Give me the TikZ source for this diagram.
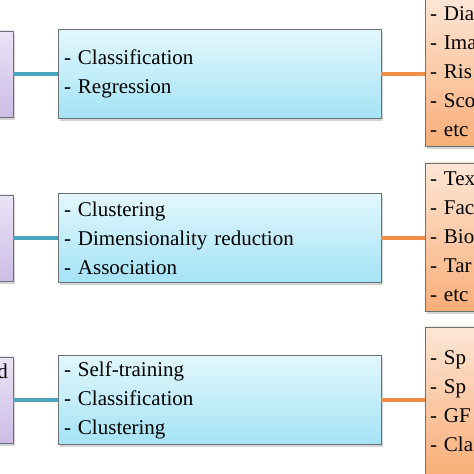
\documentclass[tikz,border=0pt]{standalone}
\usepackage{fontspec}
\setmainfont{Liberation Serif}
\usepackage{xcolor}
\usepackage{tikz}
\usetikzlibrary{shadows}

\definecolor{tasktop}{HTML}{E2F7FC}
\definecolor{taskbot}{HTML}{A4E3F6}
\definecolor{apptop}{HTML}{FDE6D6}
\definecolor{appbot}{HTML}{F8AE78}
\definecolor{learntop}{HTML}{EAE3F5}
\definecolor{learnbot}{HTML}{CDBDE5}
\definecolor{linkblue}{HTML}{4BA5BF}
\definecolor{linkorange}{HTML}{F08E48}
\definecolor{boxedge}{HTML}{6A7478}

\begin{document}
\begin{tikzpicture}[x=1pt,y=1pt,
  every node/.style={font=\fontsize{21}{29}\selectfont},
  boxbase/.style={draw=boxedge,line width=0.8pt,inner ysep=0pt,
    drop shadow={shadow xshift=2pt,shadow yshift=-3pt,opacity=0.35}},
  learnbox/.style={boxbase,top color=learntop,bottom color=learnbot,
    minimum width=73pt,minimum height=86pt},
  taskbox/.style={boxbase,top color=tasktop,bottom color=taskbot,
    text width=311pt,inner xsep=6pt,align=left,minimum height=89pt},
  appbox/.style={boxbase,top color=apptop,bottom color=appbot,
    text width=120pt,inner xsep=5pt,align=left,minimum height=148pt},
  bluelink/.style={draw=linkblue,line width=4.5pt},
  orangelink/.style={draw=linkorange,line width=4.5pt}]
  \useasboundingbox (0,0) rectangle (474,474);
  \clip (0,0) rectangle (474,474);
  % first row
  \node[learnbox] (learn1) at (-23.5,400) {};
  \node[taskbox] (task1) at (219.5,400) {- Classification\\- Regression};
  \node[appbox] (app1) at (490,402) {- Dia\\- Ima\\- Ris\\- Sco\\- etc};
  \draw[bluelink] (learn1.east) -- (task1.west);
  \draw[orangelink] (task1.east) -- (task1.east -| app1.west);
  % second row
  \node[learnbox] (learn2) at (-23.5,236) {};
  \node[taskbox] (task2) at (219.5,236) {- Clustering\\- Dimensionality reduction\\- Association};
  \node[appbox] (app2) at (490,237) {- Tex\\- Fac\\- Bio\\- Tar\\- etc};
  \draw[bluelink] (learn2.east) -- (task2.west);
  \draw[orangelink] (task2.east) -- (task2.east -| app2.west);
  % third row
  \node[learnbox] (learn3) at (-23.5,74) {};
  \node[anchor=base east,inner sep=0pt] (learn3text) at (8,95) {Semi-supervised};
  \node[taskbox] (task3) at (219.5,74) {- Self-training\\- Classification\\- Clustering};
  \node[appbox] (app3) at (490,73) {- Sp\\- Sp\\- GF\\- Cla};
  \draw[bluelink] (learn3.east) -- (task3.west);
  \draw[orangelink] (task3.east) -- (task3.east -| app3.west);
\end{tikzpicture}
\end{document}
